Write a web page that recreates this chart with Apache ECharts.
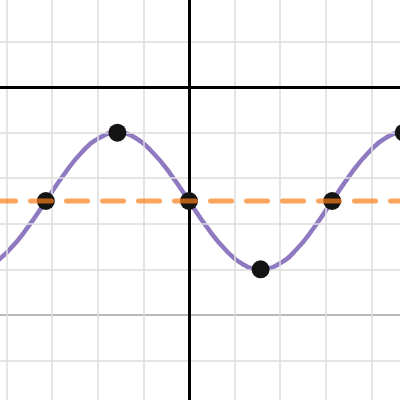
<!DOCTYPE html>
<html>
<head>
<meta charset="utf-8">
<script src="https://cdn.jsdelivr.net/npm/echarts@6/dist/echarts.min.js"></script>
<style>
html,body{margin:0;padding:0;background:#fff;overflow:hidden;}
#frame{position:relative;width:400px;height:400px;overflow:hidden;}
#chart{position:absolute;left:-39px;top:-4.2px;width:456px;height:410.4px;}
</style>
</head>
<body>
<div id="frame"><div id="chart"></div></div>
<script>
// Curve samples (x, y)
var curveX = [-5.11, -4.71, -4.32, -3.93, -3.53, -3.14, -2.75, -2.36, -1.96, -1.57, -1.18, -0.79, -0.39, 0, 0.39, 0.79, 1.18, 1.57, 1.96, 2.36, 2.75, 3.14, 3.53, 3.93, 4.32, 4.71, 5.11];
var curveY = [-3.89, -4.0, -3.89, -3.56, -3.07, -2.5, -1.93, -1.44, -1.11, -1.0, -1.11, -1.44, -1.93, -2.5, -3.07, -3.56, -3.89, -4.0, -3.89, -3.56, -3.07, -2.5, -1.93, -1.44, -1.11, -1.0, -1.11];
// Marked points
var pointX = [-3.14, -1.57, 0, 1.57, 3.14, 4.71];
var pointY = [-2.5, -1.0, -2.5, -4.0, -2.5, -1.0];
// Dashed midline
var midlineX = [-5, 5];
var midlineY = [-2.5, -2.5];
// Axis ranges / ticks
var xRange = [-5, 5];
var yRange = [-7, 2];
var gridStep = 1;
var majorY = -5;

function pairs(xs, ys) { return xs.map(function (x, i) { return [x, ys[i]]; }); }

// split line colours: darker for the major line
var yLineColors = [];
for (var v = yRange[0]; v <= yRange[1]; v += gridStep) {
  yLineColors.push(v === majorY ? '#a0a0a0' : '#dcdcdc');
}

var chart = echarts.init(document.getElementById('chart'), null, {renderer: 'canvas'});
chart.setOption({
  animation: false,
  backgroundColor: '#ffffff',
  grid: {left: 0, right: 0, top: 0, bottom: 0, containLabel: false},
  xAxis: {
    type: 'value', min: xRange[0], max: xRange[1], interval: gridStep,
    axisLine: {onZero: true, lineStyle: {color: '#000', width: 3}},
    axisTick: {show: false}, axisLabel: {show: false},
    splitLine: {show: true, lineStyle: {color: '#dcdcdc', width: 1.5}},
    z: 3
  },
  yAxis: {
    type: 'value', min: yRange[0], max: yRange[1], interval: gridStep,
    axisLine: {onZero: true, lineStyle: {color: '#000', width: 3}},
    axisTick: {show: false}, axisLabel: {show: false},
    splitLine: {show: true, lineStyle: {color: yLineColors, width: 1.5}},
    z: 3
  },
  series: [
    {
      type: 'line', data: pairs(curveX, curveY), smooth: true, showSymbol: false,
      lineStyle: {color: 'rgba(96,66,166,0.7)', width: 4.5}, z: 2, silent: true
    },
    {
      type: 'scatter', data: pairs(pointX, pointY), symbolSize: 18,
      itemStyle: {color: '#141414', opacity: 1}, z: 4, silent: true
    },
    {
      type: 'line', data: pairs(midlineX, midlineY), showSymbol: false,
      lineStyle: {color: 'rgba(250,126,25,0.7)', width: 5, type: [21, 15], dashOffset: 2.5, cap: 'round'},
      z: 5, silent: true
    }
  ]
});
</script>
</body>
</html>
